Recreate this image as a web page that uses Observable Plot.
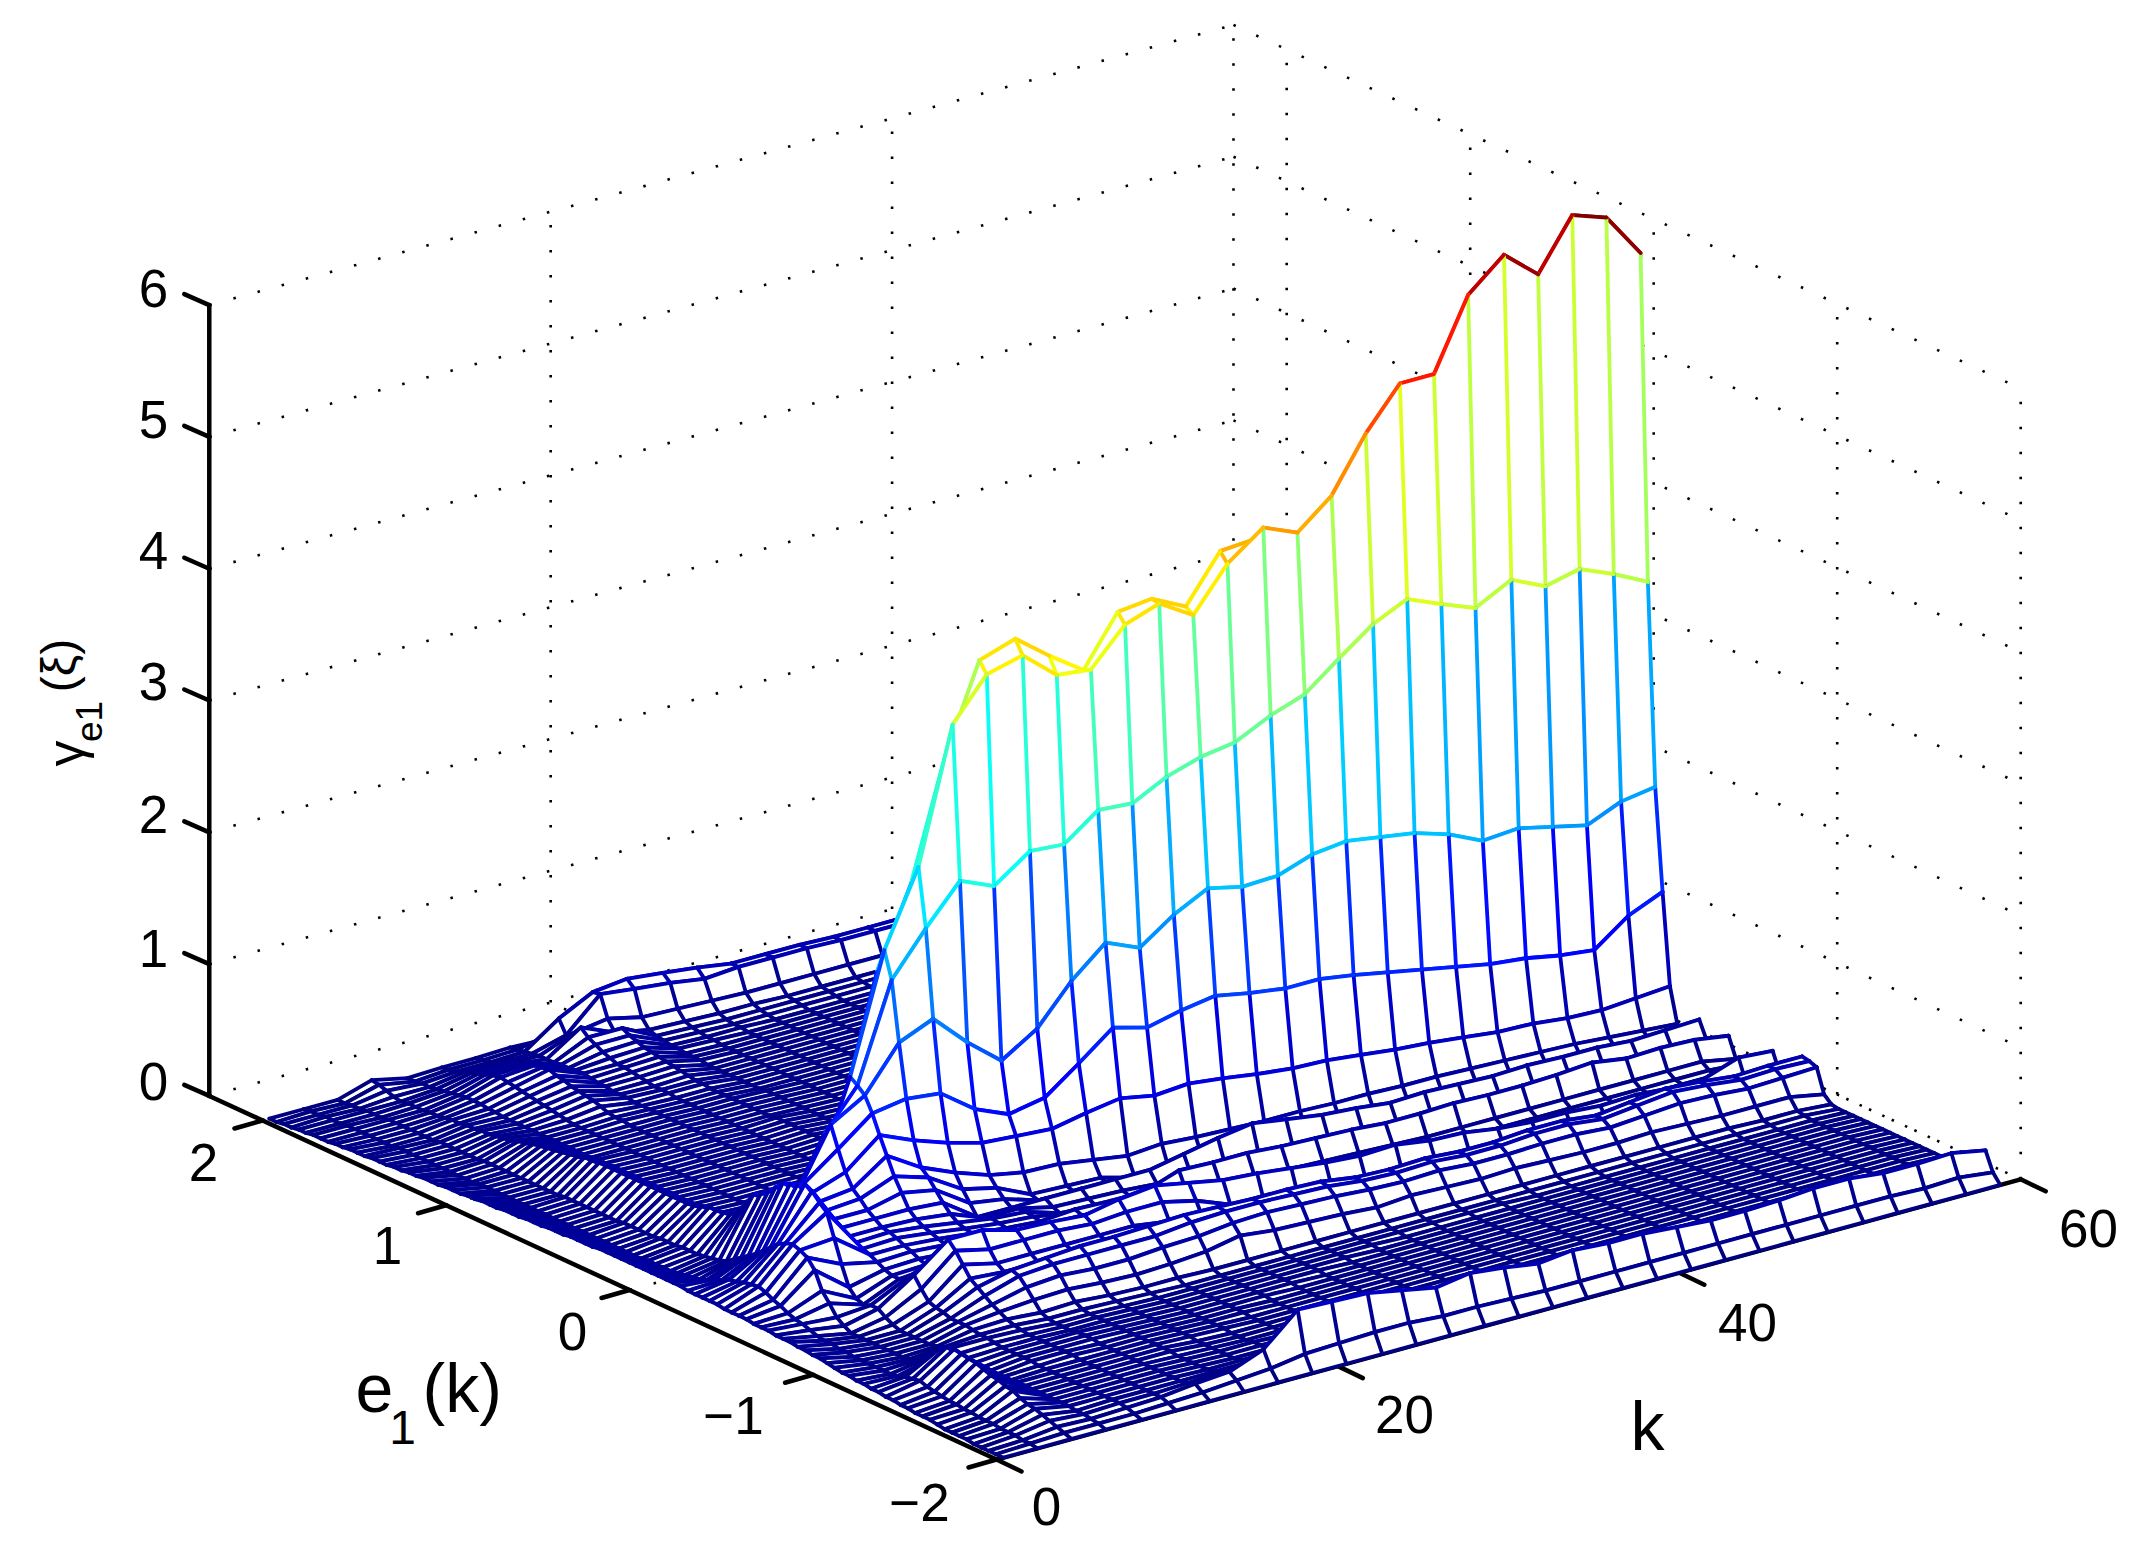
<!DOCTYPE html>
<html><head><meta charset="utf-8">
<style>html,body{margin:0;padding:0;background:#fff}svg{display:block}</style>
<script src="https://cdn.jsdelivr.net/npm/d3@7"></script>
<script src="https://cdn.jsdelivr.net/npm/@observablehq/plot@0.6"></script>
</head><body><div id="chart"></div>
<script>
// k position of each mesh column
const kGrid=[0.4,2.4,4.4,6.4,8.5,10.5,12.5,14.5,16.5,18.5,20.5,22.6,24.6,26.6,28.6,30.6,32.6,34.6,36.7,38.7,40.7,42.7,44.7,46.7,48.7,50.8,52.8,54.8,56.8,58.8];
// surface height x100 along e1 = -2, -1.96, ... 2 for each column
const z00=[0,0,0,0,0,1,1,1,1,2, 3,3,3,4,4,5,5,6,6,7, 7,8,8,9,10,11,11,12,12,13, 13,13,14,14,14,15,15,15,15,16, 16,16,16,16,17,17,17,17,17,17, 17,17,17,17,17,17,16,16,16,16, 15,15,15,14,14,14,13,13,13,12, 12,12,11,11,10,10,10,9,9,9, 8,8,7,7,6,6,6,5,5,5, 4,4,3,3,3,2,2,1,1,0,0];
const z01=[0,1,1,2,2,2,3,3,3,4, 4,5,5,6,7,8,10,9,8,6, 5,5,5,5,5,5,6,6,7,7, 8,10,12,13,15,18,20,23,25,24, 23,21,20,17,15,12,10,9,8,7, 6,6,6,6,5,5,5,5,5,5, 5,5,5,5,5,5,5,5,5,5, 5,5,5,5,5,5,5,4,4,4, 4,4,4,4,4,4,4,4,3,3, 3,3,3,3,3,2,2,2,1,1,0];
const z02=[0,2,4,6,8,10,11,13,16,17, 19,20,22,24,25,26,27,26,22,12, 9,6,4,3,3,3,3,3,3,3, 3,6,10,18,25,38,45,48,50,48, 45,40,35,30,26,22,18,14,12,11, 10,9,9,9,8,8,8,7,7,7, 7,7,6,6,6,6,6,6,6,6, 5,5,5,5,5,5,5,5,5,5, 5,4,4,4,4,4,4,3,3,3, 3,3,3,3,2,2,2,1,1,0,0];
const z03=[0,2,3,4,4,5,5,5,5,5, 5,5,5,4,4,3,3,3,4,5, 6,8,6,4,3,3,3,3,3,5, 8,12,12,10,12,18,33,50,67,72, 78,81,78,76,74,68,62,58,55,46, 38,33,31,30,30,28,26,25,25,25, 25,25,25,25,25,25,25,25,25,25, 24,24,22,21,20,19,18,17,16,14, 13,11,10,9,8,8,7,7,6,6, 5,4,4,3,3,3,2,3,5,7,8];
const z04=[0,2,4,5,5,5,5,5,5,5, 5,5,5,5,5,6,6,6,6,6, 7,8,8,9,10,10,10,12,13,15, 22,30,25,22,22,24,27,30,32,34, 36,40,44,48,52,56,61,50,38,28, 20,15,11,9,8,8,7,7,7,7, 7,7,7,7,7,7,7,7,7,7, 7,7,7,7,7,6,6,6,6,6, 6,6,6,6,6,6,6,6,7,7, 8,8,8,7,6,5,4,3,3,2,2];
const z05=[0,3,5,5,5,5,5,5,5,5, 5,5,5,5,6,6,6,6,6,6, 6,7,8,10,13,16,20,24,28,36, 44,50,36,24,23,25,28,30,33,35, 36,40,44,50,55,65,80,96,85,50, 30,20,13,9,8,7,7,7,6,6, 6,6,6,6,6,6,6,6,6,6, 6,6,6,6,6,6,6,6,6,6, 6,6,6,7,8,9,10,11,12,13, 14,15,16,15,13,11,9,7,5,4,3];
const z06=[0,4,8,6,5,5,5,5,5,5, 5,5,5,5,5,5,6,6,6,5, 5,5,6,8,15,22,28,30,26,30, 38,50,30,22,21,23,26,28,30,32, 35,40,50,60,73,86,100,111,116,120, 95,55,32,20,12,8,7,6,6,6, 6,6,6,6,6,6,6,6,6,6, 6,6,6,6,6,6,6,6,6,6, 7,7,8,10,12,13,14,15,17,18, 20,19,18,16,13,11,9,7,5,4,3];
const z07=[0,6,10,7,5,4,4,4,4,4, 5,5,5,5,5,5,5,5,5,5, 5,5,6,9,16,24,30,32,26,30, 38,43,28,22,21,22,24,25,26,28, 32,38,45,52,57,75,104,144,189,209, 190,120,60,30,15,9,7,6,6,6, 6,6,6,6,6,6,6,6,6,6, 6,6,6,6,6,6,6,6,6,6, 6,6,6,6,7,7,7,8,8,9, 10,10,9,9,8,8,8,7,6,5,4];
const z08=[0,8,20,9,5,4,3,3,3,3, 3,3,4,4,4,4,4,4,4,4, 4,4,5,7,14,22,30,34,28,30, 38,42,26,20,19,20,21,22,23,24, 22,20,28,36,46,66,101,155,221,265, 250,160,80,40,20,12,8,7,6,6, 6,5,5,5,5,5,5,5,5,5, 5,5,5,5,5,5,5,5,5,5, 5,5,5,6,6,6,7,8,9,10, 10,12,14,17,20,25,18,14,24,10,3];
const z09=[0,12,43,12,6,4,3,3,3,2, 2,2,3,3,3,3,3,3,3,3, 3,3,4,6,13,22,30,34,28,30, 36,40,24,19,18,19,20,20,21,22, 22,20,24,30,37,59,82,130,250,366, 340,220,110,50,25,12,7,6,6,6, 6,6,6,6,6,6,6,6,6,6, 6,6,6,6,5,5,5,5,5,5, 5,5,5,6,6,7,8,9,10,11, 12,13,15,17,20,14,22,38,37,12,3];
const z10=[0,13,42,12,6,4,3,3,2,2, 2,2,2,2,3,3,3,3,3,3, 3,3,3,6,14,24,30,35,28,30, 38,45,28,18,16,18,20,22,16,14, 16,20,16,18,32,57,71,109,239,397, 405,280,140,70,30,15,8,5,4,4, 4,4,4,4,4,4,4,4,4,4, 4,4,4,4,4,4,4,4,4,4, 3,3,3,3,3,3,3,3,4,4, 4,5,5,6,7,9,16,35,40,12,2];
const z11=[0,14,41,11,5,4,3,2,2,2, 2,2,2,2,2,2,3,3,3,3, 3,3,3,5,16,25,33,36,24,26, 38,48,26,16,14,16,18,21,14,12, 15,20,15,17,31,55,76,126,258,404, 414,290,150,70,30,14,8,5,4,3, 3,3,3,3,3,3,3,3,3,3, 3,3,3,3,3,3,3,3,3,3, 3,3,3,3,3,3,3,3,3,3, 3,4,4,5,6,8,15,32,37,11,2];
const z12=[0,14,36,11,5,3,3,2,2,2, 2,2,2,2,2,2,2,3,3,3, 3,3,3,5,21,28,34,35,22,20, 32,43,24,14,13,15,17,21,13,12, 14,20,14,16,27,60,95,155,256,382, 394,270,140,70,30,14,8,5,4,3, 3,3,3,3,3,3,3,3,3,3, 3,3,3,3,3,3,3,3,3,3, 3,3,3,3,3,3,3,3,3,3, 3,3,4,4,5,7,14,28,34,10,2];
const z13=[0,12,31,9,4,3,3,2,2,2, 2,2,2,2,2,2,2,2,3,3, 3,3,3,5,18,29,34,34,16,12, 22,38,18,10,9,12,17,30,12,8, 12,20,10,9,23,64,115,177,275,379, 376,250,130,70,30,14,8,5,4,3, 3,3,3,3,3,3,3,3,3,3, 3,3,3,3,3,3,3,3,3,3, 3,3,3,3,3,3,3,3,3,3, 3,3,3,4,5,7,13,30,30,9,2];
const z14=[0,12,35,9,4,3,2,2,2,2, 2,2,2,2,2,2,2,2,2,3, 3,3,3,5,17,28,33,34,14,9, 16,36,14,8,7,9,15,29,10,7, 12,25,10,8,25,59,108,166,273,406, 413,280,140,70,30,14,8,5,4,3, 3,3,3,3,3,3,3,3,3,3, 3,3,3,3,3,3,3,3,3,3, 3,3,3,3,3,3,3,3,3,3, 3,3,3,4,5,6,13,30,30,9,2];
const z15=[0,11,32,8,4,3,2,2,2,2, 2,2,2,2,2,2,2,2,2,2, 3,3,3,5,16,27,32,33,13,8, 13,33,12,7,6,8,14,29,9,6, 12,30,10,8,23,61,114,184,286,415, 416,280,140,70,30,14,8,5,4,3, 3,3,3,3,3,3,3,3,3,3, 3,3,3,3,3,3,3,3,3,3, 3,3,3,3,3,3,3,3,3,3, 3,3,3,4,5,6,13,30,30,9,2];
const z16=[0,10,28,8,4,3,2,2,2,2, 2,2,2,2,2,2,2,2,2,2, 2,3,3,5,14,25,29,29,12,7, 11,30,11,6,5,7,12,27,9,5, 11,34,11,8,22,58,118,197,294,399, 403,270,140,70,30,14,8,5,4,3, 3,3,3,3,3,3,3,3,3,3, 3,3,3,3,3,3,3,3,3,3, 3,3,3,3,3,3,3,3,3,3, 3,3,3,4,5,6,13,29,29,9,2];
const z17=[0,10,31,8,4,3,2,2,2,2, 2,2,2,2,2,2,2,2,2,2, 2,3,3,5,16,24,28,28,12,7, 10,28,10,5,4,6,11,26,8,5, 10,30,10,7,21,54,113,191,298,431, 438,280,140,70,30,14,8,5,4,3, 3,3,3,3,3,3,3,3,3,3, 3,3,3,3,3,3,3,3,3,3, 3,3,3,3,3,3,3,3,3,3, 3,3,3,4,5,6,13,29,29,9,2];
const z18=[0,10,29,8,4,3,2,2,2,2, 2,2,2,2,2,2,2,2,2,2, 2,3,3,5,15,25,29,29,12,7, 10,29,10,5,4,5,10,25,8,4, 9,26,9,7,21,51,109,192,311,451, 440,280,140,70,30,14,8,5,4,3, 3,3,3,3,3,3,3,3,3,3, 3,3,3,3,3,3,3,3,3,3, 3,3,3,3,3,3,3,3,3,3, 3,3,3,4,5,6,13,29,29,9,2];
const z19=[0,10,29,8,4,3,2,2,2,2, 2,2,2,2,2,2,2,2,2,2, 2,3,3,5,14,23,27,27,11,6, 9,25,9,4,4,5,9,23,7,4, 8,24,8,7,20,50,109,201,320,440, 420,270,140,70,30,14,8,5,4,3, 3,3,3,3,3,3,3,3,3,3, 3,3,3,3,3,3,3,3,3,3, 3,3,3,3,3,3,3,3,3,3, 3,3,3,4,5,6,13,29,29,9,2];
const z20=[0,10,27,8,4,3,2,2,2,2, 2,2,2,2,2,2,2,2,2,2, 2,2,3,5,15,23,27,27,11,6, 8,24,8,4,3,4,8,23,7,4, 7,21,8,6,20,47,105,204,340,461, 430,280,150,70,30,14,8,5,4,3, 3,3,3,3,3,3,3,3,3,3, 3,3,3,3,3,3,3,3,3,3, 3,3,3,3,3,3,3,3,3,3, 3,3,3,4,5,6,13,29,29,9,2];
const z21=[0,10,25,7,4,3,2,2,2,2, 2,2,2,2,2,2,2,2,2,2, 2,2,3,5,14,24,29,29,12,6, 7,20,7,4,3,4,8,24,7,4, 7,22,8,6,19,44,100,200,359,501, 470,300,150,70,30,14,8,5,4,3, 3,3,3,3,3,3,3,3,3,3, 3,3,3,3,3,3,3,3,3,3, 3,3,3,3,3,3,3,3,3,3, 3,3,3,4,5,6,13,29,29,9,2];
const z22=[0,10,25,7,4,3,2,2,2,2, 2,2,2,2,2,2,2,2,2,2, 2,2,3,5,13,24,29,29,12,6, 7,18,6,3,3,4,8,23,7,4, 7,21,8,6,19,42,95,196,371,532, 490,310,150,70,30,14,8,5,4,3, 3,3,3,3,3,3,3,3,3,3, 3,3,3,3,3,3,3,3,3,3, 3,3,3,3,3,3,3,3,3,3, 3,3,3,4,5,6,13,29,29,9,2];
const z23=[0,10,26,7,4,3,2,2,2,2, 2,2,2,2,2,2,2,2,2,2, 2,2,3,5,13,22,26,26,11,6, 7,18,6,3,3,4,8,23,7,4, 7,20,8,6,18,39,90,188,360,532, 480,300,150,70,30,14,8,5,4,3, 3,3,3,3,3,3,3,3,3,3, 3,3,3,3,3,3,3,3,3,3, 3,3,3,3,3,3,3,3,3,3, 3,3,3,4,5,6,13,29,29,9,2];
const z24=[0,10,28,8,4,3,2,2,2,2, 2,2,2,2,2,2,2,2,2,2, 2,2,3,5,14,24,29,29,12,6, 7,16,6,3,3,4,8,24,7,4, 7,21,8,6,17,36,85,176,350,585, 520,320,150,70,30,14,8,5,4,3, 3,3,3,3,3,3,3,3,3,3, 3,3,3,3,3,3,3,3,3,3, 3,3,3,3,3,3,3,3,3,3, 3,3,3,4,5,6,13,29,29,9,2];
const z25=[0,10,28,8,4,3,2,2,2,2, 2,2,2,2,2,2,2,2,2,2, 2,2,3,5,13,26,32,32,13,6, 7,17,6,3,3,4,8,26,7,4, 7,20,8,6,16,35,82,178,364,608, 540,330,150,70,30,14,8,5,4,3, 3,3,3,3,3,3,3,3,3,3, 3,3,3,3,3,3,3,3,3,3, 3,3,3,3,3,3,3,3,3,3, 3,3,3,4,5,6,13,29,29,9,2];
const z26=[0,10,25,7,4,3,2,2,2,2, 2,2,2,2,2,2,2,2,2,2, 2,2,3,5,12,25,30,30,12,6, 7,15,6,3,3,4,8,22,7,4, 7,20,8,6,15,32,77,172,352,586, 520,320,150,70,30,14,8,5,4,3, 3,3,3,3,3,3,3,3,3,3, 3,3,3,3,3,3,3,3,3,3, 3,3,3,3,3,3,3,3,3,3, 3,3,3,4,5,6,13,29,29,9,2];
const z27=[0,9,25,7,4,3,2,2,2,2, 2,2,2,2,2,2,2,2,2,2, 2,2,3,4,12,23,27,27,11,6, 7,15,6,3,3,4,8,23,7,4, 7,18,7,6,13,31,74,166,358,624, 560,340,150,70,30,14,8,5,4,3, 3,3,3,3,3,3,3,3,3,3, 3,3,3,3,3,3,3,3,3,3, 3,3,3,3,3,3,3,3,3,3, 3,3,3,4,5,6,13,29,29,9,2];
const z28=[0,10,26,7,4,3,2,2,2,2, 2,2,2,2,2,2,2,2,2,2, 2,2,3,4,12,24,28,28,11,6, 8,24,7,3,3,4,8,22,7,4, 7,19,7,5,11,33,93,177,347,615, 540,330,150,70,30,14,8,5,4,3, 3,3,3,3,3,3,3,3,3,3, 3,3,3,3,3,3,3,3,3,3, 3,3,3,3,3,3,3,3,3,3, 3,3,3,4,5,6,13,29,29,9,2];
const z29=[0,7,21,6,3,2,2,1,1,1, 1,1,1,1,1,1,1,1,1,1, 1,1,1,2,7,25,27,28,7,4, 7,22,7,3,2,2,3,18,7,2, 7,20,6,4,9,35,104,181,334,581, 500,310,150,70,30,14,8,5,4,3, 3,3,3,3,3,3,3,3,3,3, 3,3,3,3,3,3,3,3,3,3, 3,3,3,3,3,3,3,3,3,3, 3,3,3,4,5,6,13,29,29,9,2];
const zRows=[z00,z01,z02,z03,z04,z05,z06,z07,z08,z09,z10,z11,z12,z13,z14,z15,z16,z17,z18,z19,z20,z21,z22,z23,z24,z25,z26,z27,z28,z29];

// axis ticks and labels
const zTicks=[0,1,2,3,4,5,6];
const kTicks=[0,20,40,60];
const eTicks=[-2,-1,0,1,2];
const zLabelY=[1083,950,816,683,552,421,290];
const eLabelPos=[[919,1504],[733,1417],[572,1333],[387,1247],[203,1164]];
const kLabelPos=[[1046,1508],[1404,1416],[1747,1324],[2088,1230]];

// orthographic MATLAB-style view
const eMax=2.29;
const px=(k,e)=>996+17.07*k-183.5*(e+2);
const py=(k,e,z)=>1459-4.67*k-84.75*(e+2)-131.8*z;
const P=(k,e,z=0)=>[px(k,e),py(k,e,z)];
const eOf=j=>-2+0.04*j;
const zAt=(c,j)=>(zRows[c][j]??0)/100;
const V=(c,j)=>P(kGrid[c],eOf(j),zAt(c,j));

const seg=(a,b,extra={})=>({x1:a[0],y1:a[1],x2:b[0],y2:b[1],...extra});

// dotted back-wall and floor grid
const grid=[];
for(const z of zTicks){
  grid.push(seg(P(0,eMax,z),P(60,eMax,z)));
  grid.push(seg(P(60,eMax,z),P(60,-2,z)));
}
for(const k of kTicks){
  if(k>0) grid.push(seg(P(k,eMax,0),P(k,eMax,6)));
  grid.push(seg(P(k,-2,0),P(k,eMax,0)));
}
for(const e of eTicks){
  grid.push(seg(P(60,e,0),P(60,e,6)));
  grid.push(seg(P(0,e,0),P(60,e,0)));
}

// solid axes and ticks
const axes=[seg(P(0,eMax,0),P(0,eMax,6)),seg(P(0,eMax,0),P(0,-2,0)),seg(P(0,-2,0),P(60,-2,0))];
const off=(p,dx,dy)=>[p[0]+dx,p[1]+dy];
for(const z of zTicks){const p=P(0,eMax,z);axes.push(seg(p,off(p,-25,-11)));}
for(const e of eTicks){const p=P(0,e,0);axes.push(seg(p,off(p,-28,8)));}
for(const k of kTicks){const p=P(k,-2,0);axes.push(seg(p,off(p,25,12)));}

// painter's algorithm: white faces and coloured edges, back to front
const meshMarks=[];
const nC=zRows.length;
for(let j=99;j>=0;j--){
  const faces=[],edges=[];
  for(let c=nC-1;c>=0;c--){
    if(c<nC-1){
      const q=[V(c,j),V(c+1,j),V(c+1,j+1),V(c,j+1)];
      q.forEach(p=>faces.push({x:p[0],y:p[1],q:c}));
      edges.push(seg(V(c,j+1),V(c+1,j+1),{v:zAt(c,j+1)}));
      edges.push(seg(V(c,j),V(c+1,j),{v:zAt(c,j)}));
    }
    edges.push(seg(V(c,j),V(c,j+1),{v:zAt(c,j)}));
  }
  meshMarks.push(Plot.line(faces,{x:"x",y:"y",z:"q",fill:"white",stroke:"none"}));
  meshMarks.push(Plot.link(edges,{x1:"x1",y1:"y1",x2:"x2",y2:"y2",stroke:"v",strokeWidth:3.8,strokeLinecap:"round"}));
}

const font="Liberation Sans, Helvetica, Arial, sans-serif";
const tickLabels=[
  ...zTicks.map((z,i)=>({x:153,y:zLabelY[i],t:String(z)})),
  ...eTicks.map((e,i)=>({x:eLabelPos[i][0],y:eLabelPos[i][1],t:String(e).replace("-","\u2212")})),
  ...kTicks.map((k,i)=>({x:kLabelPos[i][0],y:kLabelPos[i][1],t:String(k)}))
];
const title=(t,x,y,size,anchor="middle",rotate=0)=>Plot.text([{x,y,t}],{x:"x",y:"y",text:"t",fontSize:size,textAnchor:anchor,rotate,fontFamily:font,fill:"black"});

const chart=Plot.plot({
  width:2144,height:1566,margin:0,style:{background:"white"},
  x:{domain:[0,2144],range:[0,2144],axis:null},
  y:{domain:[0,1566],range:[0,1566],axis:null},
  color:{type:"linear",domain:[0,0.78,2.34,3.9,5.46,6.24],range:["#000080","#0000ff","#00ffff","#ffff00","#ff0000","#800000"],interpolate:"rgb"},
  marks:[
    Plot.link(grid,{x1:"x1",y1:"y1",x2:"x2",y2:"y2",stroke:"black",strokeWidth:2.6,strokeDasharray:"2.5,22.5"}),
    Plot.link(axes,{x1:"x1",y1:"y1",x2:"x2",y2:"y2",stroke:"black",strokeWidth:4.5,strokeLinecap:"round"}),
    ...meshMarks,
    Plot.text(tickLabels,{x:"x",y:"y",text:"t",fontSize:53,fontFamily:font,fill:"black"}),
    title("k",1647,1428,68),
    title("e",355,1390,68,"start"),
    title("1",402,1428,48),
    title("(k)",422,1390,68,"start"),
    title("\u03b3",66,753,52,"middle",-90),
    title("e1",90,721,37,"middle",-90),
    title("(\u03be)",59,665,48,"middle",-90)
  ]
});
document.getElementById("chart").append(chart);
</script></body></html>
